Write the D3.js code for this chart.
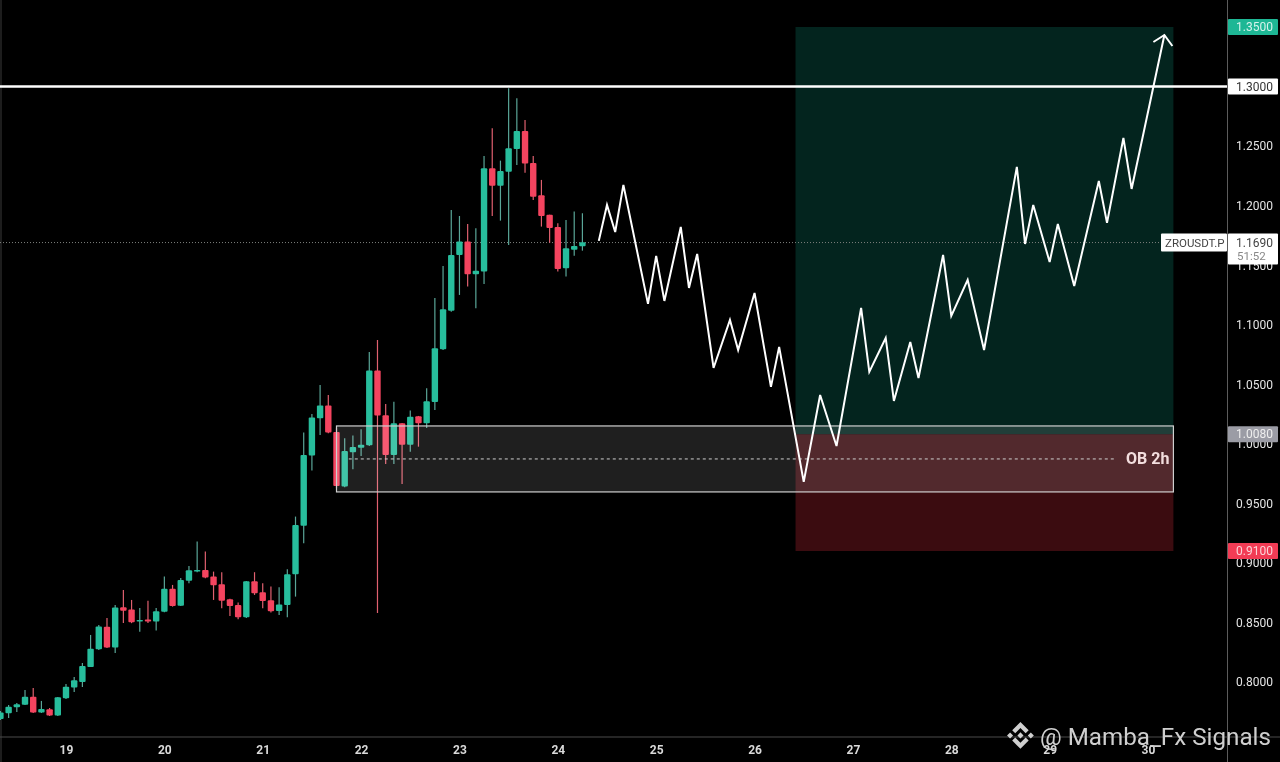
<!DOCTYPE html>
<html>
<head>
<meta charset="utf-8">
<script src="https://cdn.jsdelivr.net/npm/d3@7"></script>
<style>
  html, body { margin: 0; background: #000; overflow: hidden; }
  svg { display: block; filter: blur(0.5px); }
  text { font-family: Roboto, sans-serif; }
</style>
</head>
<body>
<div class="holder"></div>
<script>
const width = 1280;
const height = 762;

// 2h candles, bar 0 is midnight of the 19th
const bars = d3.range(-8, 64);
const opens = [
  .7690, .7738, .7788, .7810, .7877, .7743, .7771, .7718, .7864, .7953, .8001, .8127,
  .8275, .8463, .8289, .8628, .8608, .8507, .8524, .8507, .8589, .8784, .8641, .8851,
  .8927, .8941, .8885, .8821, .8695, .8647, .8544, .8846, .8754, .8687, .8597, .8647,
  .8905, .9313, .9901, 1.0215, 1.0321, 1.0100, .9641, .9929, .9968, .9988, 1.0615, 1.0240,
  .9907, 1.0173, .9993, 1.0232, 1.0173, 1.0352, 1.0794, 1.1118, 1.1586, 1.1698, 1.1424, 1.1446,
  1.2314, 1.2168, 1.2285, 1.2476, 1.2627, 1.2358, 1.2087, 1.1924, 1.1821, 1.1474, 1.1630, 1.1659
];
const closes = [
  .7743, .7793, .7813, .7877, .7743, .7774, .7718, .7872, .7961, .8015, .8135, .8280,
  .8465, .8289, .8625, .8599, .8502, .8521, .8507, .8594, .8784, .8639, .8857, .8939,
  .8941, .8877, .8813, .8683, .8639, .8544, .8846, .8746, .8681, .8594, .8650, .8905,
  .9319, .9907, 1.0220, 1.0321, 1.0094, .9646, .9940, .9974, .9993, 1.0615, 1.0237, .9907,
  1.0173, .9993, 1.0228, 1.0173, 1.0358, 1.0803, 1.1130, 1.1586, 1.1698, 1.1424, 1.1454, 1.2314,
  1.2168, 1.2291, 1.2482, 1.2627, 1.2353, 1.2075, 1.1913, 1.1813, 1.1468, 1.1642, 1.1662, 1.1693
];
const highs = [
  .7757, .7807, .7824, .7933, .7950, .7841, .7782, .7875, .7984, .8043, .8160, .8395,
  .8479, .8538, .8647, .8773, .8689, .8622, .8683, .8622, .8885, .8815, .8874, .8975,
  .9179, .9095, .8927, .8922, .8698, .8667, .8849, .8922, .8829, .8801, .8796, .8947,
  .9389, 1.0094, 1.0251, 1.0494, 1.0410, 1.0133, 1.0047, 1.0069, 1.0122, 1.0772, 1.0872, 1.0335,
  1.0354, 1.0175, 1.0279, 1.0234, 1.0467, 1.1225, 1.1494, 1.1964, 1.1913, 1.1846, 1.1810, 1.2417,
  1.2650, 1.2378, 1.2986, 1.2902, 1.2719, 1.2417, 1.2216, 1.1924, 1.1852, 1.1880, 1.1950, 1.1936
];
const lows = [
  .7681, .7698, .7749, .7807, .7740, .7740, .7715, .7715, .7858, .7917, .7959, .8127,
  .8269, .8286, .8244, .8496, .8494, .8421, .8496, .8432, .8586, .8633, .8639, .8829,
  .8922, .8871, .8689, .8620, .8555, .8527, .8538, .8731, .8620, .8583, .8563, .8544,
  .8717, .9165, .9775, 1.0075, 1.0089, .9630, .9635, .9787, .9898, .9982, .8580, .9831,
  .9831, .9663, .9934, .9976, 1.0133, 1.0285, 1.0788, 1.1110, 1.1250, 1.1320, 1.1138, 1.1342,
  1.1913, 1.1874, 1.1670, 1.2342, 1.2277, 1.2048, 1.1824, 1.1689, 1.1446, 1.1404, 1.1580, 1.1622
];

// drawn projection
const pathBars = [65, 66, 67, 68, 71, 72, 73, 75, 76, 77, 79, 81, 82, 84, 86, 87, 90, 92, 94, 97,
  98, 100, 101, 103, 104, 107, 108, 110, 112, 116, 117, 118, 120, 121, 123, 126, 127, 129, 130, 134];
const pathPrices = [1.1704, 1.2006, 1.1779, 1.2174, 1.1175, 1.1578, 1.1200, 1.1821, 1.1309, 1.1594,
  1.0637, 1.1040, 1.0788, 1.1267, 1.0478, 1.0814, .9680, 1.0410, .9982, 1.1141,
  1.0604, 1.0889, 1.0360, 1.0855, 1.0553, 1.1586, 1.1074, 1.1376, 1.0788, 1.2325,
  1.1678, 1.2006, 1.1527, 1.1846, 1.1326, 1.2207, 1.1855, 1.2568, 1.2140, 1.3433];

const dayTicks = [19, 20, 21, 22, 23, 24, 25, 26, 27, 28, 29, 30];
const priceTicks = [.8, .85, .9, .95, 1, 1.05, 1.1, 1.15, 1.2, 1.25, 1.3];

const tradeStart = 89;
const tradeEnd = 135.1;
const target = 1.35;
const entry = 1.008;
const stop = 0.91;
const obStart = 33;
const obTop = 1.015;
const obBottom = 0.9596;
const obMidStart = 34.5;
const obMidEnd = 128;
const resistance = 1.3;
const lastPrice = 1.169;

const green = '#27bd9c';
const red = '#f4445f';

const barTime = b => new Date(Date.UTC(2025, 3, 19) + b * 2 * 3600 * 1000);

const x = d3.scaleUtc()
  .domain([new Date(Date.UTC(2025, 3, 19)), new Date(Date.UTC(2025, 3, 30))])
  .range([66, 1148]);
const y = d3.scaleLinear().domain([0.8, 1.35]).range([682, 27]);
const xb = b => x(barTime(b));

const svg = d3.select('.holder')
  .append('svg')
  .attr('width', width)
  .attr('height', height);

svg.append('rect').attr('width', width).attr('height', height).attr('fill', '#000');

// frame
svg.append('line').attr('x1', 1).attr('x2', 1).attr('y1', 0).attr('y2', height)
  .attr('stroke', '#3a3a3a').attr('stroke-width', 1);
svg.append('line').attr('x1', 1227.5).attr('x2', 1227.5).attr('y1', 0).attr('y2', height)
  .attr('stroke', '#5c5c5c').attr('stroke-width', 1);
svg.append('line').attr('x1', 0).attr('x2', width).attr('y1', 737).attr('y2', 737)
  .attr('stroke', '#4a4a4a').attr('stroke-width', 1);

// trade zones
svg.append('rect')
  .attr('x', xb(tradeStart)).attr('width', xb(tradeEnd) - xb(tradeStart))
  .attr('y', y(target)).attr('height', y(entry) - y(target))
  .attr('fill', '#03241e');
svg.append('rect')
  .attr('x', xb(tradeStart)).attr('width', xb(tradeEnd) - xb(tradeStart))
  .attr('y', y(entry)).attr('height', y(stop) - y(entry))
  .attr('fill', '#3b0c10');

// last price line
svg.append('line')
  .attr('x1', 0).attr('x2', 1162)
  .attr('y1', y(lastPrice)).attr('y2', y(lastPrice))
  .attr('stroke', '#7c7f7c').attr('stroke-width', 1).attr('stroke-dasharray', '1 2');

// candles
const candles = svg.append('g').selectAll('g')
  .data(bars)
  .enter()
  .append('g');

candles.append('line')
  .attr('x1', d => xb(d)).attr('x2', d => xb(d))
  .attr('y1', (d, i) => y(highs[i]))
  .attr('y2', (d, i) => y(lows[i]))
  .attr('stroke', (d, i) => closes[i] >= opens[i] ? '#5aa698' : '#e0606f')
  .attr('stroke-width', 1.2);

candles.append('rect')
  .attr('x', d => xb(d) - 3.2)
  .attr('width', 6.4)
  .attr('rx', 1)
  .attr('y', (d, i) => y(Math.max(opens[i], closes[i])))
  .attr('height', (d, i) => Math.max(1.5, Math.abs(y(opens[i]) - y(closes[i]))))
  .attr('fill', (d, i) => closes[i] >= opens[i] ? green : red);

// order block
svg.append('rect')
  .attr('x', xb(obStart)).attr('width', xb(tradeEnd) - xb(obStart))
  .attr('y', y(obTop)).attr('height', y(obBottom) - y(obTop))
  .attr('fill', 'rgba(255,255,255,0.12)')
  .attr('stroke', '#cfcfcf')
  .attr('stroke-width', 1.2);
svg.append('line')
  .attr('x1', xb(obMidStart)).attr('x2', xb(obMidEnd))
  .attr('y1', y((obTop + obBottom) / 2)).attr('y2', y((obTop + obBottom) / 2))
  .attr('stroke', '#cfcfcf').attr('stroke-width', 1).attr('stroke-dasharray', '3 3');
svg.append('text')
  .attr('x', xb(tradeEnd) - 4)
  .attr('y', y((obTop + obBottom) / 2) + 5)
  .attr('text-anchor', 'end')
  .attr('font-size', 16)
  .attr('font-weight', 700)
  .attr('fill', '#f3dede')
  .text('OB 2h');

// projection
const line = d3.line().x(d => xb(d[0])).y(d => y(d[1]));
svg.append('path')
  .datum(pathBars.map((b, i) => [b, pathPrices[i]]))
  .attr('d', line)
  .attr('fill', 'none')
  .attr('stroke', '#fff')
  .attr('stroke-width', 2)
  .attr('stroke-linejoin', 'miter');

const tipX = xb(pathBars[pathBars.length - 1]);
const tipY = y(pathPrices[pathPrices.length - 1]);
svg.append('path')
  .attr('d', `M${tipX - 11},${tipY + 7}L${tipX},${tipY}L${tipX + 8},${tipY + 11}`)
  .attr('fill', 'none')
  .attr('stroke', '#fff')
  .attr('stroke-width', 2);

// resistance
svg.append('line')
  .attr('x1', 0).attr('x2', 1227)
  .attr('y1', y(resistance)).attr('y2', y(resistance))
  .attr('stroke', '#fff').attr('stroke-width', 2.4);

// axes
const xAxis = d3.axisBottom(x)
  .tickValues(dayTicks.map(d => new Date(Date.UTC(2025, 3, d))))
  .tickFormat(d3.utcFormat('%-d'))
  .tickSize(0);
const xG = svg.append('g')
  .attr('transform', 'translate(0,742)')
  .call(xAxis);
xG.select('.domain').remove();
xG.selectAll('text')
  .attr('font-size', 12).attr('font-weight', 700)
  .attr('font-family', 'Roboto, sans-serif')
  .attr('fill', '#d9d9d9');

const yAxis = d3.axisRight(y)
  .tickValues(priceTicks)
  .tickFormat(d3.format('.4f'))
  .tickSize(0);
const yG = svg.append('g')
  .attr('transform', 'translate(1236,0)')
  .call(yAxis);
yG.select('.domain').remove();
yG.selectAll('text')
  .attr('x', 0)
  .attr('font-size', 12)
  .attr('font-family', 'Roboto, sans-serif')
  .attr('fill', '#e4e4e4');

// price tags
const tags = [
  { p: target, bg: '#1eb795', fg: '#d5f3ec' },
  { p: resistance, bg: '#fff', fg: '#333' },
  { p: entry, bg: '#9b9ca5', fg: '#eeeeee' },
  { p: stop, bg: '#f23c55', fg: '#fbd4d9' }
];
tags.forEach(t => {
  svg.append('rect')
    .attr('x', 1228).attr('width', 50)
    .attr('y', y(t.p) - 8).attr('height', 16)
    .attr('rx', 1)
    .attr('fill', t.bg);
  svg.append('text')
    .attr('x', 1236).attr('y', y(t.p) + 4)
    .attr('font-size', 12)
    .attr('fill', t.fg)
    .text(d3.format('.4f')(t.p));
});

// symbol tag with countdown
const ly = y(lastPrice);
svg.append('rect').attr('x', 1161).attr('y', ly - 9).attr('width', 66).attr('height', 18)
  .attr('rx', 1).attr('fill', '#fff');
svg.append('text').attr('x', 1165).attr('y', ly + 4)
  .attr('font-size', 11.5).attr('fill', '#444').text('ZROUSDT.P');
svg.append('rect').attr('x', 1228).attr('y', ly - 9).attr('width', 50).attr('height', 31)
  .attr('rx', 1).attr('fill', '#fff');
svg.append('text').attr('x', 1236).attr('y', ly + 4)
  .attr('font-size', 12).attr('fill', '#444').text(d3.format('.4f')(lastPrice));
svg.append('text').attr('x', 1237).attr('y', ly + 17)
  .attr('font-size', 11.5).attr('fill', '#888').text('51:52');

// watermark
svg.append('path')
  .attr('d', 'M7.348 10.086 12 5.434l4.654 4.654 2.706-2.706L12 .022 4.64 7.38zM.028 12l2.706-2.706L5.44 12l-2.706 2.706zm7.32 1.914L12 18.566l4.654-4.654 2.708 2.704L12 23.978l-7.36-7.36-.004-.004zm11.212-1.914 2.706-2.706L23.972 12l-2.706 2.706zM14.745 11.998h.002V12L12 14.747 9.257 12.005l-.004-.005.004-.004.48-.48.233-.234L12 9.252z')
  .attr('transform', 'translate(1007,722) scale(1.12)')
  .attr('fill', '#cfcfcf');
svg.append('text')
  .attr('x', 1040).attr('y', 745)
  .attr('font-size', 24.2)
  .attr('font-family', '"Noto Sans", sans-serif')
  .attr('fill', '#cfcfcf')
  .text('@ Mamba_Fx Signals');
</script>
</body>
</html>
